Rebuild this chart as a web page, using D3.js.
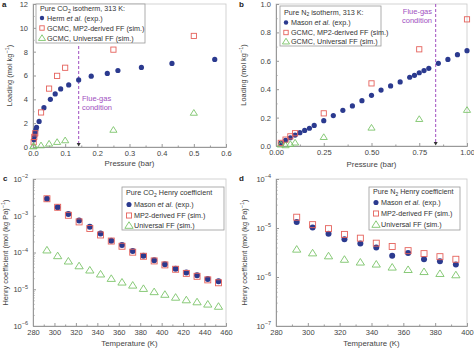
<html>
<head>
<style>
  body { margin: 0; background: white; }
  text { font-family: "Liberation Sans", Arial, sans-serif; }
</style>
<script src="https://d3js.org/d3.v7.min.js"></script>
</head>
<body>
<script>
// ---- panel a: CO2 isotherm (pressure bar, loading mol/kg)
var co2ExpP   = [0.003, 0.005, 0.007, 0.009, 0.011, 0.019, 0.034, 0.054, 0.069, 0.086, 0.111, 0.142, 0.181, 0.231, 0.264, 0.337, 0.432, 0.565];
var co2ExpL   = [0.6, 0.9, 1.2, 1.45, 1.65, 2.15, 3.3, 4.0, 4.45, 4.87, 5.21, 5.63, 5.94, 6.17, 6.42, 6.68, 7.01, 7.35];
var co2Mp2P   = [0.002, 0.004, 0.007, 0.025, 0.05, 0.075, 0.1, 0.25, 0.5];
var co2Mp2L   = [0.4, 0.85, 1.15, 2.9, 4.9, 5.97, 6.65, 8.17, 9.32];
var co2UffP   = [0.001, 0.002, 0.025, 0.05, 0.075, 0.1, 0.25, 0.5];
var co2UffL   = [0.05, 0.1, 0.14, 0.28, 0.42, 0.56, 1.44, 2.87];
var co2Flue   = 0.142;

// ---- panel b: N2 isotherm
var n2ExpP = [0.025, 0.05, 0.075, 0.1, 0.125, 0.15, 0.175, 0.2, 0.25, 0.3, 0.35, 0.4, 0.45, 0.5, 0.55, 0.6, 0.65, 0.7, 0.725, 0.75, 0.775, 0.8, 0.85, 0.9, 0.95, 1.0];
var n2ExpL = [0.02, 0.04, 0.058, 0.077, 0.094, 0.11, 0.125, 0.145, 0.178, 0.214, 0.251, 0.282, 0.319, 0.357, 0.394, 0.423, 0.451, 0.484, 0.498, 0.516, 0.531, 0.547, 0.582, 0.61, 0.643, 0.671];
var n2Mp2P = [0.025, 0.05, 0.075, 0.1, 0.25, 0.5, 0.75, 1.0];
var n2Mp2L = [0.022, 0.045, 0.068, 0.09, 0.23, 0.441, 0.681, 0.892];
var n2UffP = [0.025, 0.05, 0.075, 0.1, 0.25, 0.5, 0.75, 1.0];
var n2UffL = [0.01, 0.005, 0.014, 0.024, 0.063, 0.129, 0.19, 0.254];
var n2Flue = 0.836;

// ---- panel c: CO2 Henry coefficients
var co2T    = [293, 303, 313, 323, 333, 343, 353, 363, 373, 383, 393, 403, 413, 423, 433, 443, 453];
var co2HExp = [2.9e-3, 1.7e-3, 1.12e-3, 7.4e-4, 5.0e-4, 3.3e-4, 2.1e-4, 1.6e-4, 1.09e-4, 8.1e-5, 6.2e-5, 4.8e-5, 3.6e-5, 2.85e-5, 2.4e-5, 1.9e-5, 1.64e-5];
var co2HMp2 = [2.9e-3, 1.7e-3, 1.03e-3, 6.8e-4, 4.5e-4, 3.0e-4, 2.05e-4, 1.48e-4, 1.02e-4, 7.9e-5, 5.9e-5, 4.6e-5, 3.5e-5, 2.7e-5, 2.25e-5, 1.8e-5, 1.5e-5];
var co2HUff = [1.16e-4, 8.1e-5, 5.8e-5, 4.3e-5, 3.3e-5, 2.57e-5, 1.95e-5, 1.55e-5, 1.28e-5, 1.04e-5, 8.5e-6, 7.2e-6, 6.0e-6, 5.1e-6, 4.5e-6, 3.9e-6, 3.4e-6];

// ---- panel d: N2 Henry coefficients
var n2T    = [293, 303, 313, 323, 333, 343, 353, 363, 373, 383, 393];
var n2HExp = [1.33e-5, 1.02e-5, 7.6e-6, 5.9e-6, 4.8e-6, 4.0e-6, 2.7e-6, 3.1e-6, 2.3e-6, 2.1e-6, 1.8e-6];
var n2HMp2 = [1.66e-5, 1.17e-5, 9.7e-6, 7.4e-6, 6.2e-6, 4.9e-6, 4.2e-6, 3.45e-6, 3.0e-6, 2.6e-6, 2.3e-6];
var n2HUff = [3.67e-6, 3.08e-6, 2.68e-6, 2.28e-6, 2.0e-6, 1.82e-6, 1.58e-6, 1.41e-6, 1.28e-6, 1.17e-6, 1.1e-6];

var blue = "#2b3a8f", red = "#e5625c", green = "#7cc46a", purple = "#a04fc0";
var FS_TICK = 7.5, FS_LEG = 7.2, FS_TITLE = 7.8;

var svg = d3.select("body").append("svg").attr("width", 474).attr("height", 349);
svg.append("rect").attr("width", 474).attr("height", 349).attr("fill", "white");

var zip = function(a, b) { return a.map(function(v, i) { return [v, b[i]]; }); };

function superLabel(sel, exp) {
  sel.text("10");
  sel.append("tspan").attr("dy", -3.5).attr("font-size", 5.5).text("\u2212" + exp);
}

function panel(o) {
  var g = svg.append("g");
  var x = d3.scaleLinear().domain(o.xd).range(o.xr);
  var y = (o.log ? d3.scaleLog() : d3.scaleLinear()).domain(o.yd).range(o.yr);

  // frame
  g.append("rect").attr("x", o.xr[0]).attr("y", o.yr[1])
    .attr("width", o.xr[1] - o.xr[0]).attr("height", o.yr[0] - o.yr[1])
    .attr("fill", "none").attr("stroke", "#c8c8c8").attr("stroke-width", 0.8);

  // minor ticks
  g.append("g").attr("transform", "translate(0," + o.yr[0] + ")")
    .call(d3.axisBottom(x).tickValues(o.xMinor).tickSize(-1.5).tickFormat(""))
    .call(function(a) { a.select(".domain").remove(); a.selectAll("line").attr("stroke", "#999"); });
  g.append("g").attr("transform", "translate(" + o.xr[0] + ",0)")
    .call(d3.axisLeft(y).tickValues(o.yMinor).tickSize(-1.5).tickFormat(""))
    .call(function(a) { a.select(".domain").remove(); a.selectAll("line").attr("stroke", "#999"); });

  // major axes
  var xa = g.append("g").attr("transform", "translate(0," + o.yr[0] + ")")
    .call(d3.axisBottom(x).tickValues(o.xTicks).tickSize(-3).tickPadding(4).tickFormat(o.xFmt));
  var ya = g.append("g").attr("transform", "translate(" + o.xr[0] + ",0)")
    .call(d3.axisLeft(y).tickValues(o.yTicks).tickSize(-3).tickPadding(5).tickFormat(o.log ? "" : o.yFmt));
  [xa, ya].forEach(function(a) {
    a.select(".domain").attr("stroke", "#999");
    a.selectAll("line").attr("stroke", "#999");
    a.selectAll("text").attr("font-size", FS_TICK).attr("fill", "#444")
      .attr("font-family", "Liberation Sans, Arial, sans-serif");
  });
  if (o.log) {
    ya.selectAll(".tick text").each(function(d) {
      superLabel(d3.select(this), Math.round(-Math.log10(d)));
    });
  }

  // axis titles
  g.append("text").attr("x", (o.xr[0] + o.xr[1]) / 2).attr("y", o.xlabY)
    .attr("text-anchor", "middle").attr("font-size", FS_TITLE).attr("fill", "#444").text(o.xlab);
  var yl = g.append("text").attr("transform", "translate(" + o.ylabX + "," + (o.yr[0] + o.yr[1]) / 2 + ") rotate(-90)")
    .attr("text-anchor", "middle").attr("font-size", FS_TITLE - 0.4).attr("fill", "#444");
  o.ylab(yl);

  // panel letter
  g.append("text").attr("x", o.letter[1]).attr("y", o.letter[2])
    .attr("font-size", 8).attr("font-weight", "bold").attr("fill", "#222").text(o.letter[0]);

  // flue gas line
  if (o.flue !== undefined) {
    g.append("line").attr("x1", x(o.flue)).attr("x2", x(o.flue))
      .attr("y1", o.flueTop).attr("y2", o.yr[0] - 3)
      .attr("stroke", purple).attr("stroke-width", 1).attr("stroke-dasharray", "3,2");
    g.append("path").attr("d", "M" + (x(o.flue) - 2) + "," + (o.yr[0] - 4) + "L" + (x(o.flue) + 2) + "," + (o.yr[0] - 4) + "L" + x(o.flue) + "," + (o.yr[0] - 0.5) + "Z")
      .attr("fill", "#333");
    var ft = g.append("text").attr("font-size", FS_LEG + 0.3).attr("fill", purple).attr("text-anchor", o.flueAnchor);
    ft.append("tspan").attr("x", o.flueX).attr("y", o.flueY).text("Flue-gas");
    ft.append("tspan").attr("x", o.flueX).attr("y", o.flueY + 9).text("condition");
  }

  // marks
  var r = o.size;
  g.append("g").selectAll("circle").data(o.exp).join("circle")
    .attr("cx", function(d) { return x(d[0]); }).attr("cy", function(d) { return y(d[1]); })
    .attr("r", r).attr("fill", blue);
  g.append("g").selectAll("rect").data(o.mp2).join("rect")
    .attr("x", function(d) { return x(d[0]) - r; }).attr("y", function(d) { return y(d[1]) - r; })
    .attr("width", 2 * r).attr("height", 2 * r)
    .attr("fill", "none").attr("stroke", red).attr("stroke-width", 0.9);
  var tri = function(cx, cy) {
    var s = r * 1.25;
    return "M" + cx + "," + (cy - s) + "L" + (cx + s * 1.1) + "," + (cy + s * 0.75) + "L" + (cx - s * 1.1) + "," + (cy + s * 0.75) + "Z";
  };
  g.append("g").selectAll("path").data(o.uff).join("path")
    .attr("d", function(d) { return tri(x(d[0]), y(d[1])); })
    .attr("fill", "none").attr("stroke", green).attr("stroke-width", 0.9);

  // legend
  var L = o.legend;
  g.append("rect").attr("x", L.x).attr("y", L.y).attr("width", L.w).attr("height", L.h)
    .attr("fill", "white").attr("stroke", "#999").attr("stroke-width", 0.8);
  var t = g.append("text").attr("x", L.x + 4).attr("y", L.rows[0]).attr("font-size", FS_LEG).attr("fill", "#333");
  L.title(t);
  var sx = L.x + L.sx, lr = r * 0.85;
  g.append("circle").attr("cx", sx).attr("cy", L.rows[1] - 2.5).attr("r", lr).attr("fill", blue);
  g.append("rect").attr("x", sx - lr).attr("y", L.rows[2] - 2.5 - lr).attr("width", 2 * lr).attr("height", 2 * lr)
    .attr("fill", "none").attr("stroke", red).attr("stroke-width", 0.9);
  g.append("path").attr("d", tri(sx, L.rows[3] - 2.5)).attr("fill", "none").attr("stroke", green).attr("stroke-width", 0.9);
  L.labels.forEach(function(fn, i) {
    var tt = g.append("text").attr("x", sx + 5).attr("y", L.rows[i + 1]).attr("font-size", FS_LEG).attr("fill", "#333");
    fn(tt);
  });
}

var withSub = function(pre, sub, post) {
  return function(t) {
    t.append("tspan").text(pre);
    t.append("tspan").attr("dy", 1.5).attr("font-size", 5).text(sub);
    t.append("tspan").attr("dy", -1.5).text(post);
  };
};
var italicLab = function(name) {
  return function(t) {
    t.append("tspan").text(name + " ");
    t.append("tspan").attr("font-style", "italic").text("et al.");
    t.append("tspan").text(" (exp.)");
  };
};
var plainLab = function(s) { return function(t) { t.text(s); }; };
var loadingLab = function(t) {
  t.append("tspan").text("Loading (mol kg");
  t.append("tspan").attr("dy", -3).attr("font-size", 5.5).text("\u22121");
  t.append("tspan").attr("dy", 3).text(")");
};
var henryLab = function(t) {
  t.append("tspan").text("Henry coefficient (mol (kg Pa)");
  t.append("tspan").attr("dy", -3).attr("font-size", 5.5).text("\u22121");
  t.append("tspan").attr("dy", 3).text(")");
};

var range = function(a, b, s) { return d3.range(a, b + s / 2, s); };
var logMinor = function(lo, hi) {
  var out = [];
  for (var e = lo; e < hi; e++) for (var k = 2; k < 10; k++) out.push(k * Math.pow(10, e));
  return out;
};

panel({
  xd: [0, 0.6], xr: [33, 226], yd: [0, 12], yr: [147, 4],
  xTicks: range(0, 0.6, 0.1), xMinor: range(0.05, 0.55, 0.1), xFmt: d3.format(".1f"),
  yTicks: range(0, 12, 2), yMinor: range(1, 11, 2), yFmt: d3.format("d"),
  xlab: "Pressure (bar)", xlabY: 166, ylabX: 12, ylab: loadingLab,
  letter: ["a", 2, 7], size: 2.6,
  flue: co2Flue, flueTop: 46, flueX: 82, flueY: 101, flueAnchor: "start",
  exp: zip(co2ExpP, co2ExpL), mp2: zip(co2Mp2P, co2Mp2L), uff: zip(co2UffP, co2UffL),
  legend: { x: 36, y: 4, w: 109, h: 39, sx: 6, rows: [11, 20.5, 30.5, 40.5],
    title: withSub("Pure CO", "2", " isotherm, 313 K:"),
    labels: [italicLab("Herm"), plainLab("GCMC, MP2-derived FF (sim.)"), plainLab("GCMC, Universal FF (sim.)")] }
});

panel({
  xd: [0, 1], xr: [276, 467], yd: [0, 1], yr: [146, 4],
  xTicks: range(0, 1, 0.25), xMinor: range(0.125, 0.875, 0.25), xFmt: d3.format(".2f"),
  yTicks: range(0, 1, 0.2), yMinor: range(0.1, 0.9, 0.2), yFmt: d3.format(".1f"),
  xlab: "Pressure (bar)", xlabY: 167, ylabX: 246, ylab: loadingLab,
  letter: ["b", 239, 7], size: 2.6,
  flue: n2Flue, flueTop: 4, flueX: 432, flueY: 14, flueAnchor: "end",
  exp: zip(n2ExpP, n2ExpL), mp2: zip(n2Mp2P, n2Mp2L), uff: zip(n2UffP, n2UffL),
  legend: { x: 280, y: 6, w: 101, h: 40, sx: 6, rows: [14.5, 25, 35, 44],
    title: withSub("Pure N", "2", " isotherm, 313 K:"),
    labels: [italicLab("Mason"), plainLab("GCMC, MP2-derived FF (sim.)"), plainLab("GCMC, Universal FF (sim.)")] }
});

panel({
  xd: [280, 460], xr: [33, 226], yd: [1e-6, 1e-2], yr: [326, 179], log: true,
  xTicks: range(280, 460, 20), xMinor: range(290, 450, 20), xFmt: d3.format("d"),
  yTicks: [1e-6, 1e-5, 1e-4, 1e-3, 1e-2], yMinor: logMinor(-6, -2),
  xlab: "Temperature (K)", xlabY: 346, ylabX: 8, ylab: henryLab,
  letter: ["c", 3, 181], size: 3,
  exp: zip(co2T, co2HExp), mp2: zip(co2T, co2HMp2), uff: zip(co2T, co2HUff),
  legend: { x: 122, y: 187, w: 102, h: 43, sx: 7, rows: [195, 207, 218, 228],
    title: withSub("Pure CO", "2", " Henry coefficient"),
    labels: [italicLab("Mason"), plainLab("MP2-derived FF (sim.)"), plainLab("Universal FF (sim.)")] }
});

panel({
  xd: [280, 400], xr: [276, 467], yd: [1e-7, 1e-4], yr: [326, 179], log: true,
  xTicks: range(280, 400, 20), xMinor: range(290, 390, 20), xFmt: d3.format("d"),
  yTicks: [1e-7, 1e-6, 1e-5, 1e-4], yMinor: logMinor(-7, -4),
  xlab: "Temperature (K)", xlabY: 346, ylabX: 247, ylab: henryLab,
  letter: ["d", 239, 181], size: 3,
  exp: zip(n2T, n2HExp), mp2: zip(n2T, n2HMp2), uff: zip(n2T, n2HUff),
  legend: { x: 369, y: 187, w: 91, h: 43, sx: 7, rows: [194, 205, 216, 227],
    title: withSub("Pure N", "2", " Henry coefficient"),
    labels: [italicLab("Mason"), plainLab("MP2-derived FF (sim.)"), plainLab("Universal FF (sim.)")] }
});
</script>
</body>
</html>
